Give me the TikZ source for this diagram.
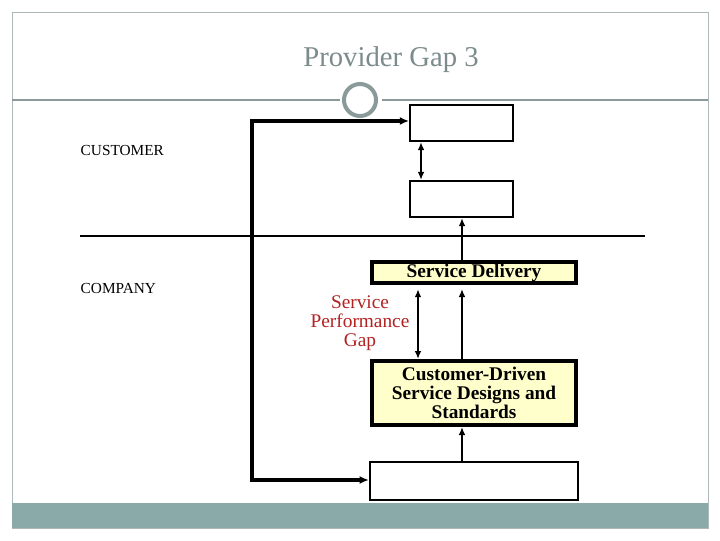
\documentclass[tikz,border=0pt]{standalone}
\usepackage{fontspec}
\setmainfont{Liberation Serif}
\usetikzlibrary{arrows.meta}
\definecolor{slgray}{HTML}{8A9A9A}
\definecolor{band}{HTML}{8AAAAA}
\definecolor{boxy}{HTML}{FFFFCC}
\definecolor{gapred}{HTML}{B22222}
\begin{document}
\begin{tikzpicture}[x=0.75pt,y=-0.75pt,
  plain/.style={draw=black,line width=1.6pt,fill=white,inner sep=0pt},
  ybox/.style={draw=black,line width=3pt,fill=boxy,inner sep=0pt,font=\bfseries\fontsize{14.5}{14}\selectfont,align=center},
  conn/.style={line width=1.5pt,-{Latex[length=6pt,width=5pt]}},
  dconn/.style={line width=1.5pt,{Latex[length=6pt,width=5pt]}-{Latex[length=6pt,width=5pt]}},
  lbl/.style={anchor=west,font=\fontsize{11.5}{12}\selectfont}]
\useasboundingbox (0,0) rectangle (720,540);
\fill[white] (0,0) rectangle (720,540);
\draw[slgray!70,line width=0.6pt] (12,12) rectangle (708,528);
\fill[band] (12,503) rectangle (708,528);
\node[text=slgray!90!black,font=\fontsize{21.5}{24}\selectfont] (title) at (391,60) {Provider Gap 3};
\draw[slgray,line width=0.8pt] (12,100) -- (340,100);
\draw[slgray,line width=0.8pt] (382,100) -- (708,100);
\draw[slgray,line width=3pt] (360,100) circle (16);
\node[lbl] (cust) at (76,150) {CUSTOMER};
\node[lbl] (comp) at (76,288) {COMPANY};
\coordinate (hl) at (80,236); \coordinate (hr) at (645,236);
\draw[line width=1.5pt] (hl) -- (hr);
\node[plain,minimum width=77pt,minimum height=27pt] (b1) at (461.5,123) {};
\node[plain,minimum width=77pt,minimum height=27pt] (b2) at (461.5,199) {};
\node[ybox,minimum width=153pt,minimum height=16pt] (sd) at (474,272.5) {\raisebox{-1pt}{Service Delivery}};
\node[ybox,minimum width=153pt,minimum height=48pt] (cds) at (474,393) {Customer-Driven\\Service Designs and\\Standards};
\node[plain,minimum width=156pt,minimum height=28pt] (b3) at (474,481) {};
\node[text=gapred,align=center,font=\fontsize{14.5}{14}\selectfont] (gap) at (360,323) {Service\\Performance\\Gap};
\draw[dconn] (b1.south -| 421,0) -- (b2.north -| 421,0);
\draw[conn] (sd.north -| 462,0) -- (b2.south -| 462,0);
\draw[dconn] (sd.south -| 418,0) ++(0,4) -- (cds.north -| 418,0);
\draw[conn] (cds.north -| 462,0) -- ++(0,-70);
\draw[conn] (b3.north -| 462,0) -- (cds.south -| 462,0);
\coordinate (lt) at (252,121); \coordinate (lb) at (252,480);
\draw[line width=2.4pt,{Latex[length=7pt,width=6pt]}-{Latex[length=7pt,width=6pt]}] (b3.west |- lb) -- (lb) -- (lt) -- (b1.west |- lt);
\end{tikzpicture}
\end{document}
